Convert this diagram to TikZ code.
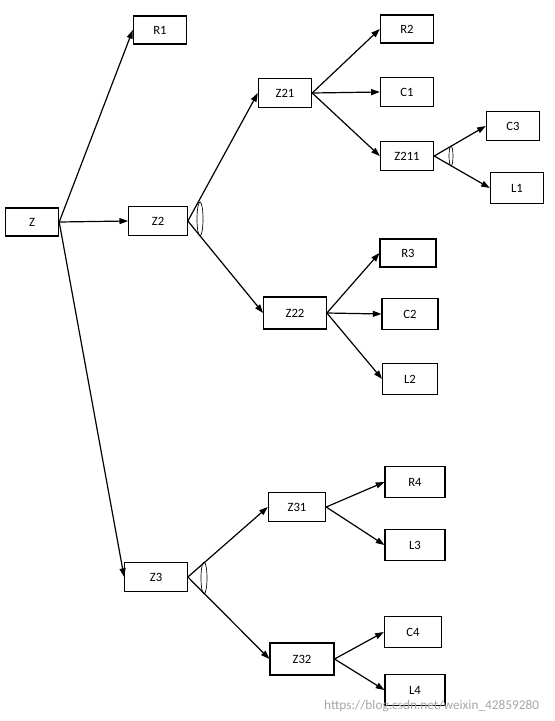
\documentclass[tikz,border=0pt]{standalone}
\usepackage{fontspec}
\setmainfont{Carlito}
\usetikzlibrary{arrows.meta, positioning}

\begin{document}
\begin{tikzpicture}[x=0.75pt, y=-0.75pt,
  box/.style={draw, line width=0.8pt, minimum width=40pt, minimum height=21pt, inner sep=1pt, font=\fontsize{9.5}{11}\selectfont},
  arr/.style={-{Triangle[length=6.5pt, width=4.5pt]}, line width=0.9pt},
  lens/.style={line width=0.5pt}
]
\useasboundingbox (0,0) rectangle (554,721);

\node[box] (z)    at (32, 222)  {Z};
\node[box] (r1)   at (160, 30)  {R1};
\node[box, minimum width=44pt, minimum height=22pt] (z2) at (158, 221) {Z2};
\node[box, minimum height=22pt] (z21)  at (285, 93)  {Z21};
\node[box] (r2)   at (407, 29)  {R2};
\node[box, minimum height=22pt] (c1)   at (407, 92)  {C1};
\node[box, minimum height=22pt] (z211) at (407, 156) {Z211};
\node[box, minimum height=22pt] (c3)   at (513, 126) {C3};
\node[box, minimum height=23pt] (l1)   at (517, 188) {L1};
\node[box, minimum width=47pt, minimum height=24pt] (z22) at (295, 313) {Z22};
\node[box, minimum width=42pt] (r3)   at (408, 253) {R3};
\node[box, minimum width=42pt, minimum height=23pt] (c2)   at (410, 314) {C2};
\node[box, minimum width=41pt, minimum height=23pt] (l2)   at (410, 379) {L2};
\node[box, minimum width=47pt, minimum height=22pt] (z3)   at (156, 577) {Z3};
\node[box, minimum width=43pt, minimum height=22pt] (z31)  at (297, 507) {Z31};
\node[box, minimum width=45pt, minimum height=23pt] (r4)   at (415, 482) {R4};
\node[box, minimum width=45pt, minimum height=23pt] (l3)   at (415, 545) {L3};
\node[box, minimum width=48pt, minimum height=24pt] (z32)  at (302, 659) {Z32};
\node[box, minimum width=43pt, minimum height=23pt] (c4)   at (413, 632) {C4};
\node[box, minimum width=45pt, minimum height=23pt] (l4)   at (415, 690) {L4};

\draw[arr] (z.east) -- (r1.west);
\draw[arr] (z.east) -- (z2.west);
\draw[arr] (z.east) -- (z3.west);
\draw[arr] (z2.east) -- (z21.west);
\draw[arr] (z2.east) -- (z22.west);
\draw[arr] (z21.east) -- (r2.west);
\draw[arr] (z21.east) -- (c1.west);
\draw[arr] (z21.east) -- (z211.west);
\draw[arr] (z211.east) -- (c3.west);
\draw[arr] (z211.east) -- (l1.west);
\draw[arr] (z22.east) -- (r3.west);
\draw[arr] (z22.east) -- (c2.west);
\draw[arr] (z22.east) -- (l2.west);
\draw[arr] (z3.east) -- (z31.west);
\draw[arr] (z3.east) -- (z32.west);
\draw[arr] (z31.east) -- (r4.west);
\draw[arr] (z31.east) -- (l3.west);
\draw[arr] (z32.east) -- (c4.west);
\draw[arr] (z32.east) -- (l4.west);

% double arcs on the branches
\draw[lens] (200, 219) ellipse [x radius=3, y radius=17];
\draw[lens] (451, 156) ellipse [x radius=2, y radius=10];
\draw[lens] (204, 578) ellipse [x radius=3, y radius=16];

\node[text=black!35, font=\fontsize{10}{12}\selectfont, anchor=east] (mark) at (544, 706) {https://blog.csdn.net/weixin\_42859280};

\end{tikzpicture}
\end{document}
